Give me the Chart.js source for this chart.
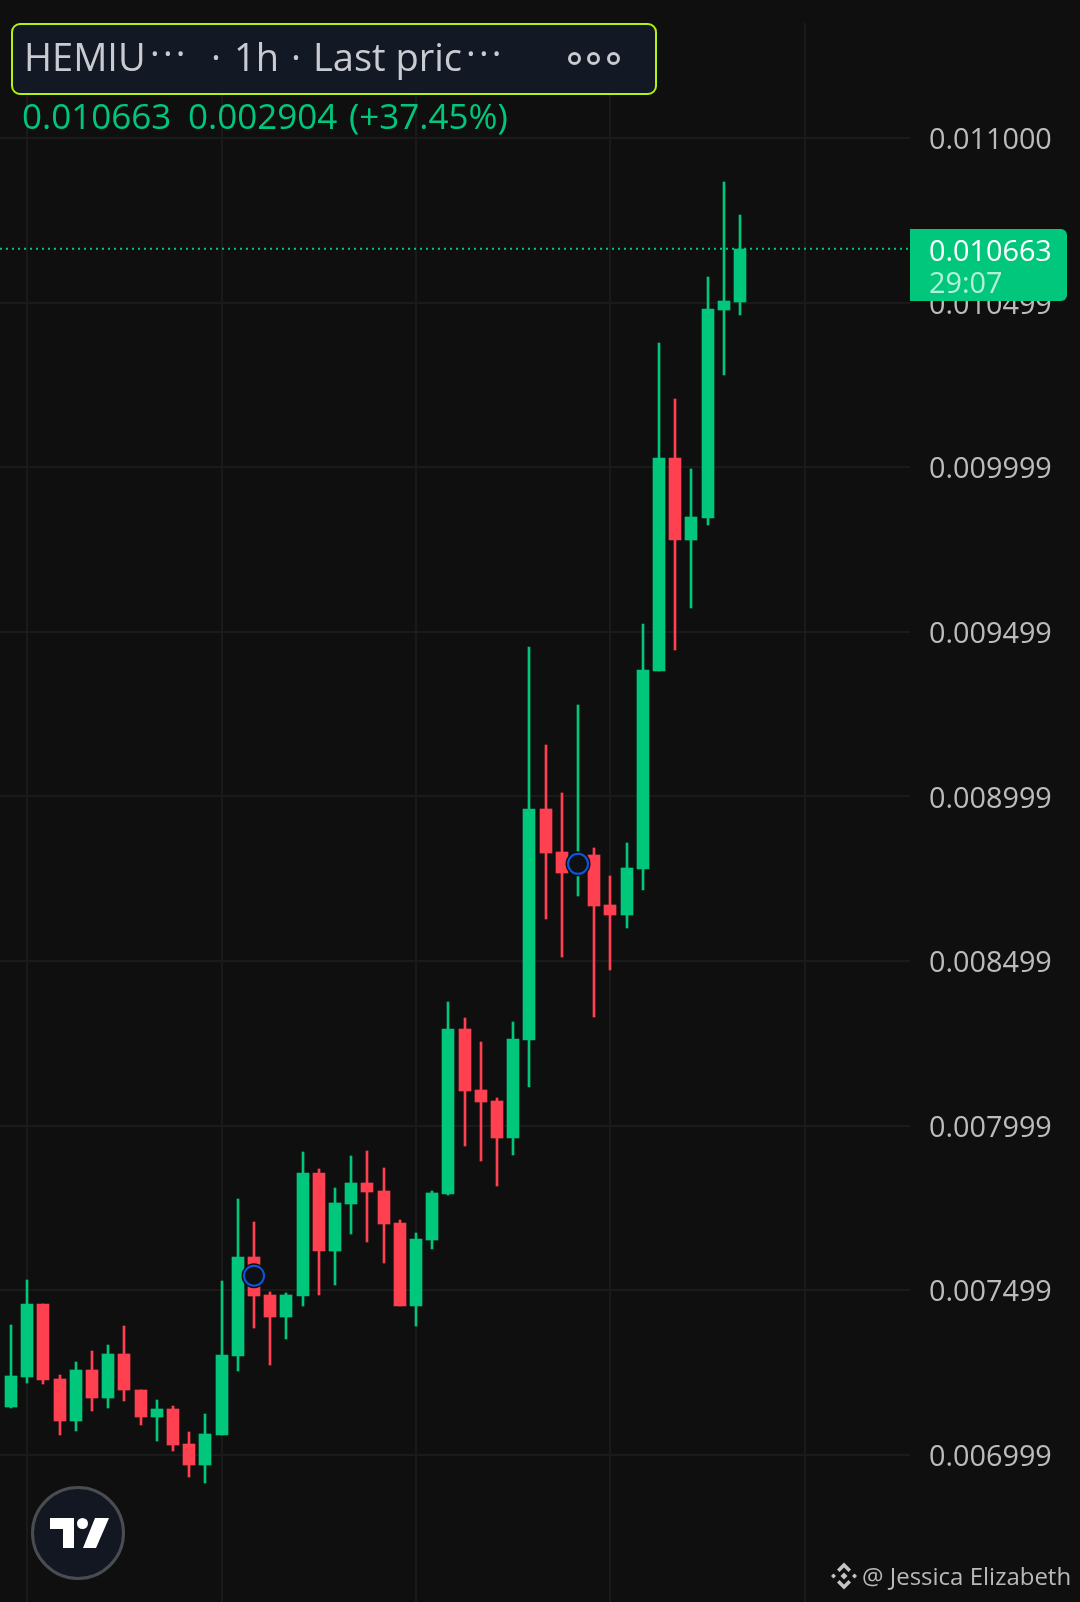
<!DOCTYPE html>
<html>
<head>
<meta charset="utf-8">
<script src="https://cdn.jsdelivr.net/npm/chart.js@4"></script>
<style>
html,body{margin:0;padding:0;background:#0f0f0f;width:1080px;height:1602px;overflow:hidden;font-family:"Open Sans",sans-serif}
#wrap{position:relative;width:1080px;height:1602px}
canvas{position:absolute;left:0;top:0}
.t{position:absolute;white-space:pre;line-height:50px;height:50px}
#box{position:absolute;left:11px;top:23px;width:642px;height:68px;border:2px solid #b5f20c;border-radius:9px;background:#131825}
.h{font-size:38px;color:#c9cbd0}
.d{font-size:37px;color:#c9cbd0;letter-spacing:3.2px}
.ring{position:absolute;width:7px;height:7px;border:3px solid #c9cbd0;border-radius:50%;top:52px}
.g{font-size:35px;color:#00c77b}
#tag{position:absolute;left:910px;top:229px;width:157px;height:72px;background:#00c77b;border-radius:0 6px 6px 0}
.p{font-size:28.8px}
#wm{font-size:24px;color:#b9b9b9}
</style>
</head>
<body>
<div id="wrap">
<canvas id="c" width="1080" height="1602"></canvas>
<div id="box"></div>
<span class="t h" style="left:24px;top:31px" id="sym">HEMIU</span>
<span class="t d" style="left:150px;top:27px">···</span>
<span class="t h" style="left:211px;top:31px">·</span>
<span class="t h" style="left:234px;top:31px">1h</span>
<span class="t h" style="left:291px;top:31px">·</span>
<span class="t h" style="left:313px;top:31px">Last pric</span>
<span class="t d" style="left:466px;top:27px">···</span>
<div class="ring" style="left:568px"></div>
<div class="ring" style="left:587px"></div>
<div class="ring" style="left:607px"></div>
<span class="t g" style="left:22px;top:91px">0.010663</span>
<span class="t g" style="left:188px;top:91px">0.002904</span>
<span class="t g" style="left:349px;top:91px">(+37.45%)</span>
<div id="tag"></div>
<span class="t p" style="left:929px;top:225px;color:#ffffff">0.010663</span>
<span class="t p" style="left:929px;top:257px;color:#b4f0d8">29:07</span>
<svg style="position:absolute;left:30px;top:1485px" width="96" height="96" viewBox="0 0 96 96">
  <circle cx="48" cy="48" r="45.5" fill="#131722" stroke="#4a4c52" stroke-width="3"/>
  <path d="M20 33H44V63H33V44H20Z" fill="#fff"/>
  <circle cx="52.5" cy="38.5" r="5.5" fill="#fff"/>
  <path d="M65 33H79L66 63H53Z" fill="#fff"/>
</svg>
<svg style="position:absolute;left:830px;top:1562px" width="28" height="28" viewBox="-14 -14 28 28" fill="#c4c4c4">
  <path d="M0-13.5L7-6.5L4.5-4L0-8.5L-4.5-4L-7-6.5Z"/>
  <path d="M0 13.5L7 6.5L4.5 4L0 8.5L-4.5 4L-7 6.5Z"/>
  <path d="M0-3.5L3.5 0L0 3.5L-3.5 0Z"/>
  <path d="M-10.5-2.5L-8 0L-10.5 2.5L-13 0Z"/>
  <path d="M10.5-2.5L13 0L10.5 2.5L8 0Z"/>
</svg>
<span class="t" id="wm" style="left:862px;top:1551px">@ Jessica Elizabeth</span>
</div>
<script>
const opens  = [0.007145,0.007236,0.007458,0.007230,0.007103,0.007258,0.007173,0.007306,0.007197,0.007115,0.007139,0.007033,0.006969,0.007060,0.007300,0.007601,0.007485,0.007419,0.007482,0.007856,0.007619,0.007762,0.007826,0.007801,0.007704,0.007452,0.007652,0.007792,0.008294,0.008108,0.008075,0.007962,0.008260,0.008962,0.008831,0.008767,0.008822,0.008670,0.008640,0.008779,0.009381,0.010028,0.009779,0.009846,0.010478,0.010502];
const highs  = [0.007394,0.007531,0.007458,0.007242,0.007282,0.007315,0.007334,0.007391,0.007197,0.007166,0.007148,0.007069,0.007124,0.007528,0.007777,0.007707,0.007495,0.007491,0.007920,0.007868,0.007810,0.007908,0.007923,0.007871,0.007713,0.007674,0.007801,0.008375,0.008326,0.008254,0.008084,0.008314,0.009454,0.009156,0.009010,0.009278,0.008843,0.008759,0.008858,0.009524,0.010377,0.010207,0.009995,0.010578,0.010866,0.010766];
const lows   = [0.007142,0.007218,0.007215,0.007060,0.007072,0.007133,0.007142,0.007163,0.007091,0.007042,0.007012,0.006933,0.006914,0.007060,0.007255,0.007385,0.007273,0.007352,0.007452,0.007485,0.007516,0.007671,0.007646,0.007583,0.007452,0.007391,0.007625,0.007789,0.007938,0.007893,0.007817,0.007911,0.008117,0.008628,0.008512,0.008697,0.008330,0.008473,0.008600,0.008715,0.009381,0.009445,0.009572,0.009824,0.010280,0.010462];
const closes = [0.007239,0.007458,0.007227,0.007103,0.007258,0.007173,0.007306,0.007197,0.007115,0.007139,0.007030,0.006969,0.007063,0.007303,0.007601,0.007482,0.007419,0.007485,0.007856,0.007619,0.007765,0.007826,0.007798,0.007701,0.007452,0.007655,0.007795,0.008294,0.008105,0.008072,0.007962,0.008263,0.008962,0.008828,0.008767,0.008822,0.008667,0.008640,0.008783,0.009384,0.010028,0.009779,0.009849,0.010481,0.010505,0.010663];
const candleIndex = opens.map((_, i) => i);
const tickValues = [0.007,0.0075,0.008,0.0085,0.009,0.0095,0.01,0.0105,0.011];
const tickLabels = ['0.006999','0.007499','0.007999','0.008499','0.008999','0.009499','0.009999','0.010499','0.011000'];
const timeGridIndex = [1,13,25,37,49];
const markerIndex = [15,35];
const markerPrices = [0.007544,0.008795];
const lastPrice = 0.010663;
const xMin = -0.679, xMax = 55.49, yMin = 0.006553, yMax = 0.011349;

const UP = '#00c77b', DOWN = '#ff4050', BG = '#0f0f0f', GRID = '#1a1a1a';
const candleColors = closes.map((c, i) => c >= opens[i] ? UP : DOWN);

new Chart(document.getElementById('c'), {
  data: {
    datasets: [
      { type:'line', order:5, data:[{x:xMin,y:lastPrice},{x:xMax,y:lastPrice}], borderColor:UP, borderWidth:2, borderDash:[2,4], pointRadius:0, fill:false },
      { type:'bar', order:4, grouped:false, barThickness:2, borderWidth:0, borderSkipped:false,
        data:candleIndex.map(i => ({x:i,y:[lows[i],highs[i]]})), backgroundColor:candleColors },
      { type:'bar', order:3, grouped:false, barThickness:12, borderWidth:0, borderSkipped:false,
        data:candleIndex.map(i => ({x:i,y:[opens[i],closes[i]]})), backgroundColor:candleColors },
      { type:'scatter', order:2, data:markerIndex.map((x,i) => ({x,y:markerPrices[i]})), pointRadius:12.5, pointBackgroundColor:'#0c0e12', pointBorderWidth:0 },
      { type:'scatter', order:1, data:markerIndex.map((x,i) => ({x,y:markerPrices[i]})), pointRadius:10, pointBackgroundColor:'#0f1014', pointBorderColor:'#0d57e0', pointBorderWidth:2 }
    ]
  },
  options: {
    responsive:false, animation:false, devicePixelRatio:1,
    layout:{autoPadding:false,padding:{top:23,left:0,right:0,bottom:0}},
    plugins:{legend:{display:false},tooltip:{enabled:false}},
    scales:{
      x:{ type:'linear', min:xMin, max:xMax, position:'bottom', offset:false,
          afterBuildTicks:s => { s.ticks = timeGridIndex.map(value => ({value})); },
          afterFit:s => { s.height = 0; s.paddingLeft = 0; s.paddingRight = 0; },
          ticks:{display:false},
          border:{display:false},
          grid:{color:GRID,lineWidth:2,drawTicks:false,offset:false} },
      y:{ type:'linear', min:yMin, max:yMax, position:'right',
          afterBuildTicks:s => { s.ticks = tickValues.map(value => ({value})); },
          afterFit:s => { s.width = 170; s.paddingTop = 0; s.paddingBottom = 0; },
          border:{display:false},
          grid:{color:GRID,lineWidth:2,drawTicks:false},
          ticks:{ autoSkip:false, padding:19, color:'#bcbcbc', font:{family:'"Open Sans"',size:28.8},
                  callback:(v,i) => tickLabels[i] } }
    }
  },
  plugins:[{
    id:'pixelFit',
    beforeDraw(c){
      const g=c.ctx;g.save();g.fillStyle=BG;g.fillRect(0,0,c.width,c.height);g.restore();
      c.scales.y.getLabelItems().forEach(it => { it.options.translation = [it.options.translation[0], it.options.translation[1] + 3]; });
    },
    beforeDatasetsDraw(c){
      c.data.datasets.forEach((d,i) => {
        if (d.type !== 'bar') return;
        c.getDatasetMeta(i).data.forEach(el => {
          el.x = Math.round(el.x - 0.1);
          el.y = Math.round(el.y);
          el.base = Math.round(el.base);
        });
      });
    }
  }]
});
</script>
</body>
</html>
